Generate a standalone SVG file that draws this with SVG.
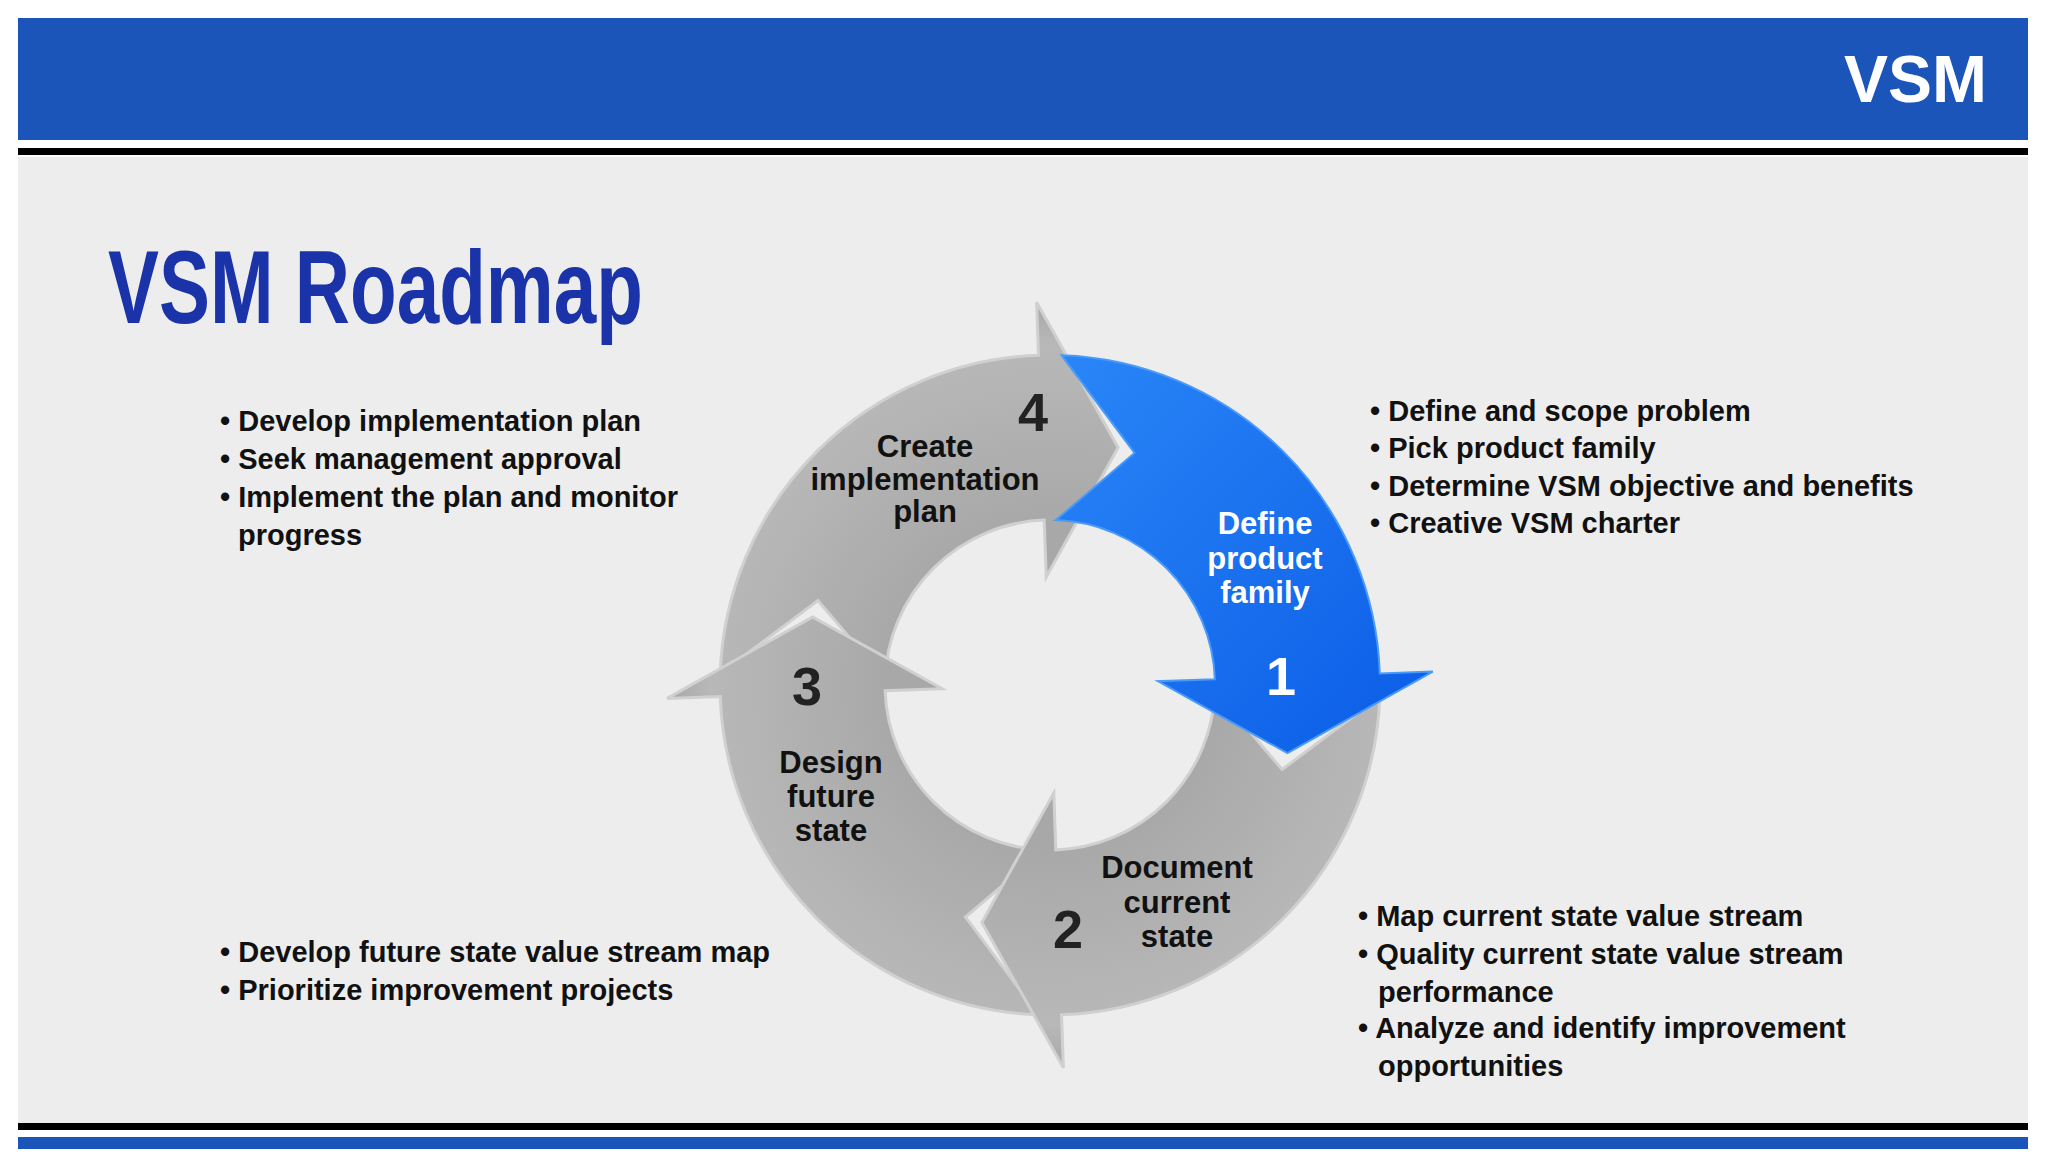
<svg xmlns="http://www.w3.org/2000/svg" width="2048" height="1169" viewBox="0 0 2048 1169">
<defs>
<style>
.t{font-family:"Liberation Sans",Arial,sans-serif;font-weight:bold;}
.b{font-size:29px;fill:#111;}
.lab{font-size:31px;fill:#111;text-anchor:middle;}
.num{font-size:54px;fill:#222;text-anchor:middle;}
.gray{fill:url(#gg);stroke:#D0D0D0;stroke-width:3;}
</style>
<linearGradient id="bg" x1="0" y1="0" x2="1" y2="1">
<stop offset="0" stop-color="#2A86F7"/><stop offset="1" stop-color="#0A5CE6"/>
</linearGradient>
<radialGradient id="gg" cx="0" cy="0" r="400" gradientUnits="userSpaceOnUse">
<stop offset="0.4" stop-color="#A8A8A8"/><stop offset="0.85" stop-color="#B8B8B8"/><stop offset="1" stop-color="#A0A0A0"/>
</radialGradient>
<path id="arr" d="M11.5,-329.8 A330,330 0 0 1 329.8,-11.5 L382.8,-13.4 L237.4,68.1 L107.9,-3.8 L164.9,-5.8 A165,165 0 0 0 5.8,-164.9 L84.5,-232.1 Z"/>
</defs>
<rect width="2048" height="1169" fill="#fff"/>
<rect x="18" y="157" width="2010" height="966" fill="#EDEDED"/>
<rect x="18" y="18" width="2010" height="122" fill="#1C55B9"/>
<rect x="18" y="148" width="2010" height="7" fill="#000"/>
<rect x="18" y="1123" width="2010" height="7" fill="#000"/>
<rect x="18" y="1137" width="2010" height="12" fill="#1C55B9"/>
<text class="t" x="1987" y="102" font-size="66" fill="#fff" text-anchor="end">VSM</text>
<text class="t" x="108" y="323" font-size="104" fill="#1A33A8" textLength="535" lengthAdjust="spacingAndGlyphs">VSM Roadmap</text>
<g id="connectors"/>
<g id="node4"><use href="#arr" class="gray" transform="translate(1050,685) rotate(270)"/>
<text class="t num" x="1033" y="431">4</text>
<text class="t lab" x="925" y="457">Create</text><text class="t lab" x="925" y="490">implementation</text><text class="t lab" x="925" y="522">plan</text></g>
<g id="node3"><use href="#arr" class="gray" transform="translate(1050,685) rotate(180)"/>
<text class="t num" x="807" y="705">3</text>
<text class="t lab" x="831" y="773">Design</text><text class="t lab" x="831" y="807">future</text><text class="t lab" x="831" y="841">state</text></g>
<g id="node2"><use href="#arr" class="gray" transform="translate(1050,685) rotate(90)"/>
<text class="t num" x="1068" y="948">2</text>
<text class="t lab" x="1177" y="878">Document</text><text class="t lab" x="1177" y="913">current</text><text class="t lab" x="1177" y="947">state</text></g>
<g id="node1"><use href="#arr" fill="url(#bg)" stroke="#4A9AFA" stroke-width="2" transform="translate(1050,685)"/>
<text class="t num" x="1281" y="695" fill="#fff" style="fill:#fff">1</text>
<text class="t lab" x="1265" y="534" style="fill:#fff">Define</text><text class="t lab" x="1265" y="569" style="fill:#fff">product</text><text class="t lab" x="1265" y="603" style="fill:#fff">family</text></g>
<g id="notes-tl" class="t b">
<text x="220" y="431">• Develop implementation plan</text>
<text x="220" y="469">• Seek management approval</text>
<text x="220" y="507">• Implement the plan and monitor</text>
<text x="238" y="545">progress</text></g>
<g id="notes-bl" class="t b">
<text x="220" y="962">• Develop future state value stream map</text>
<text x="220" y="1000">• Prioritize improvement projects</text></g>
<g id="notes-tr" class="t b">
<text x="1370" y="421">• Define and scope problem</text>
<text x="1370" y="458">• Pick product family</text>
<text x="1370" y="496">• Determine VSM objective and benefits</text>
<text x="1370" y="533">• Creative VSM charter</text></g>
<g id="notes-br" class="t b">
<text x="1358" y="926">• Map current state value stream</text>
<text x="1358" y="964">• Quality current state value stream</text>
<text x="1378" y="1002">performance</text>
<text x="1358" y="1038">• Analyze and identify improvement</text>
<text x="1378" y="1076">opportunities</text></g>
</svg>
